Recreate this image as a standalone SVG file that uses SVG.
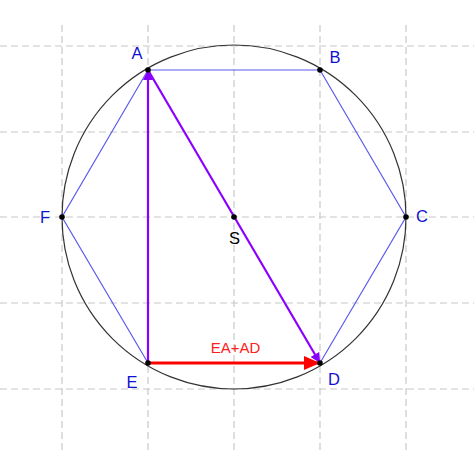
<svg xmlns="http://www.w3.org/2000/svg" width="474" height="454" viewBox="0 0 474 454">
<defs>
<style>
.grid{stroke:#c8c8c8;stroke-width:1.2;stroke-dasharray:7,4;fill:none}
.hex{stroke:#5a5aee;stroke-width:1.2;fill:none}
.vec{stroke:#8a00ff;stroke-width:2.2;fill:none}
.lbl{font-family:"Liberation Sans",Arial,sans-serif;font-size:16.5px;fill:#1010d0}
.pt{fill:#000}
</style>
<marker id="ap" markerWidth="10" markerHeight="10" refX="10" refY="5" orient="auto" markerUnits="userSpaceOnUse" viewBox="0 0 10 10">
<path d="M0,0 L10,5 L0,10 z" fill="#8a00ff"/>
</marker>
<marker id="ar" markerWidth="16" markerHeight="14" refX="16" refY="7" orient="auto" markerUnits="userSpaceOnUse" viewBox="0 0 16 14">
<path d="M0,0 L16,7 L0,14 z" fill="#ff0000"/>
</marker>
</defs>
<rect width="474" height="454" fill="#fff"/>
<g id="grid">
<line class="grid" x1="62" y1="25" x2="62" y2="454"/>
<line class="grid" x1="148" y1="25" x2="148" y2="454"/>
<line class="grid" x1="234" y1="25" x2="234" y2="454"/>
<line class="grid" x1="320" y1="25" x2="320" y2="454"/>
<line class="grid" x1="406" y1="25" x2="406" y2="454"/>
<line class="grid" x1="0" y1="46" x2="474" y2="46"/>
<line class="grid" x1="0" y1="132" x2="474" y2="132"/>
<line class="grid" x1="0" y1="217" x2="474" y2="217"/>
<line class="grid" x1="0" y1="303" x2="474" y2="303"/>
<line class="grid" x1="0" y1="389" x2="474" y2="389"/>
</g>
<g id="circle">
<circle cx="234" cy="217" r="172" fill="none" stroke="#333" stroke-width="1.2"/>
</g>
<g id="hexagon">
<polygon class="hex" points="148,70 320,70 406,217 320,363 148,363 62,217"/>
</g>
<g id="connectors">
<line class="vec" x1="148" y1="363" x2="148" y2="70" marker-end="url(#ap)"/>
<line class="vec" x1="148" y1="70" x2="320" y2="363" marker-end="url(#ap)"/>
<line x1="148" y1="363" x2="320" y2="363" stroke="#ff0000" stroke-width="3" marker-end="url(#ar)"/>
</g>
<g id="A"><circle class="pt" cx="148" cy="70" r="2.8"/><text class="lbl" x="137" y="59" text-anchor="middle">A</text></g>
<g id="B"><circle class="pt" cx="320" cy="70" r="2.8"/><text class="lbl" x="335" y="63" text-anchor="middle">B</text></g>
<g id="C"><circle class="pt" cx="406" cy="217" r="2.8"/><text class="lbl" x="422" y="222" text-anchor="middle">C</text></g>
<g id="D"><circle class="pt" cx="320" cy="363" r="2.8"/><text class="lbl" x="334" y="385" text-anchor="middle">D</text></g>
<g id="E"><circle class="pt" cx="148" cy="363" r="2.8"/><text class="lbl" x="132" y="388" text-anchor="middle">E</text></g>
<g id="F"><circle class="pt" cx="62" cy="217" r="2.8"/><text class="lbl" x="45" y="223" text-anchor="middle">F</text></g>
<g id="S"><circle class="pt" cx="234" cy="217" r="2.8"/><text class="lbl" x="234.5" y="244" text-anchor="middle" style="fill:#000">S</text></g>
<g id="label-sum"><text x="235.5" y="353" text-anchor="middle" style="font-family:'Liberation Sans',Arial,sans-serif;font-size:15px;fill:#ff2020">EA+AD</text></g>
</svg>
